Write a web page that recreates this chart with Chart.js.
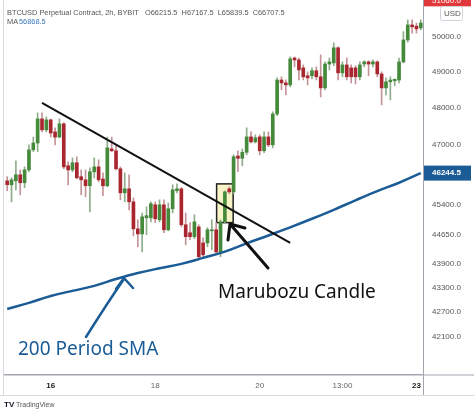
<!DOCTYPE html>
<html>
<head>
<meta charset="utf-8">
<script src="https://cdn.jsdelivr.net/npm/chart.js@4"></script>
<style>
    html, body { margin: 0; padding: 0; background: #fff; }
    #wrap { width: 474px; height: 414px; }
</style>
</head>
<body>
<div id="wrap"><canvas id="btcChart" width="474" height="414"></canvas></div>
<script>
// --- BTCUSD 2h candles ---
const opens  = [46040, 45935, 46040, 46200, 45990, 46330, 46866, 47050, 47705, 47406,
                47678, 47350, 47210, 47570, 46440, 46330, 46520, 46150, 46067, 45910,
                46280, 46410, 46090, 45910, 46890, 46840, 46360, 45725, 45830, 45490,
                44790, 44660, 45075, 45075, 45412, 45024, 45412, 44766, 45310, 45780,
                45830, 44895, 44690, 44590, 44840, 44430, 44430, 44740, 44766, 44200,
                44970, 45830, 45750, 46700, 46640, 46800, 47215, 47080, 47215, 46840,
                47215, 47000, 47840, 48780, 48700, 48644, 49400, 49345, 49120, 48900,
                48900, 49040, 48870, 48560, 49230, 49260, 49690, 48980, 49204, 49120,
                49120, 48870, 49230, 49290, 49230, 49290, 48950, 48560, 48730, 48760,
                48780, 49290, 49914, 50345, 50310, 50260];
const highs  = [46150, 46120, 46570, 46330, 46410, 47000, 47210, 47870, 47870, 47760,
                47700, 47460, 47705, 47600, 46545, 46650, 46680, 46330, 46330, 46385,
                46650, 46598, 46250, 47210, 47210, 47000, 46410, 46250, 46200, 45590,
                45024, 45200, 45360, 45490, 45490, 45542, 45542, 45460, 45935, 45960,
                45860, 45200, 44950, 45153, 44895, 44560, 44820, 45024, 44950, 45024,
                45780, 45880, 46732, 46840, 46890, 47460, 47350, 47270, 47270, 47350,
                47350, 47900, 48840, 48870, 48783, 49430, 49430, 49400, 49204, 49010,
                49120, 49150, 49487, 49290, 49400, 49830, 49714, 49290, 49400, 49204,
                49180, 49290, 49320, 49320, 49345, 49320, 49010, 48840, 48870, 48810,
                49400, 50150, 50490, 50490, 50400, 50490];
const lows   = [45780, 45490, 45800, 45670, 45860, 46280, 46820, 46820, 47350, 47350,
                47210, 47000, 47190, 46360, 45935, 46280, 46090, 45673, 45620, 45230,
                46120, 46015, 45650, 45880, 46820, 46330, 45542, 45490, 45280, 44610,
                44330, 44200, 44640, 44970, 44950, 44970, 44690, 44740, 45200, 45725,
                44840, 44383, 44510, 44540, 44050, 44050, 44330, 44256, 44130, 44080,
                44950, 45700, 45700, 46280, 46440, 46732, 47050, 47050, 46732, 46790,
                46950, 46920, 47790, 48504, 48366, 48590, 49150, 48783, 48783, 48644,
                48810, 48783, 48310, 48504, 49063, 49180, 48783, 48870, 48783, 48700,
                48670, 48783, 49150, 48900, 49150, 48870, 48090, 48366, 48227, 48620,
                48700, 49260, 49850, 50110, 50110, 50200];
const closes = [45940, 46067, 46200, 45990, 46330, 46866, 47050, 47705, 47406, 47678,
                47320, 47210, 47570, 46410, 46330, 46520, 46120, 46067, 45910, 46280,
                46410, 46067, 45910, 46920, 46840, 46360, 45725, 45830, 45490, 44790,
                44660, 45100, 45130, 45440, 45050, 45412, 44766, 45310, 45804, 45830,
                44895, 44590, 44590, 44970, 44080, 44130, 44766, 44766, 44200, 44970,
                45750, 45750, 46680, 46640, 46800, 47215, 47080, 47190, 46840, 47215,
                47000, 47840, 48780, 48700, 48644, 49375, 49345, 49063, 48870, 48840,
                49040, 48870, 48560, 49230, 49290, 49690, 48980, 49204, 48870, 48870,
                48870, 49204, 49290, 49230, 49290, 48950, 48560, 48730, 48780, 48800,
                49290, 49914, 50345, 50290, 50230, 50400];

// 200 period SMA, read every 5th candle
const smaIdx  = [0, 5, 10, 15, 20, 25, 30, 35, 40, 45, 50, 55, 60, 65, 70, 75, 80, 85, 90, 95];
const smaVals = [42780, 42930, 43100, 43225, 43350, 43520, 43670, 43790, 43900, 44050,
                 44210, 44420, 44620, 44830, 45050, 45282, 45530, 45770, 45990, 46244.5];

// hand-drawn trend line (candle index, price)
const trendIdx  = [8, 65];
const trendVals = [48143, 44430];

// marubozu highlight box
const boxIdx   = [48.1, 51.9];
const boxPrice = [45960, 44950];

const lastPrice = 51060.0;

// axis ticks
const tickIdx  = [10, 34, 58, 77, 94];
const tickText = ['16', '18', '20', '13:00', '23'];
const yTicks   = [50000, 49000, 48000, 47000, 45400, 44650, 43900, 43300, 42700, 42100];

const GREEN = '#45893b', RED = '#a9262f';
const GREEN_WICK = '#8fac8b', RED_WICK = '#c49397';
const BLUE = '#1b5c96';

const labels = opens.map((_, i) => {
    const k = tickIdx.indexOf(i);
    return k >= 0 ? tickText[k] : '';
});
const bodies = opens.map((o, i) => [o, closes[i]]);
const wicks = lows.map((l, i) => [l, highs[i]]);
const bodyColors = opens.map((o, i) => closes[i] >= o ? GREEN : RED);
const wickColors = opens.map((o, i) => closes[i] >= o ? GREEN_WICK : RED_WICK);

const smaData = opens.map(() => null);
smaIdx.forEach((ix, k) => { smaData[ix] = smaVals[k]; });
const trendData = opens.map(() => null);
trendIdx.forEach((ix, k) => { trendData[ix] = trendVals[k]; });

// annotations, header, price labels
const extras = {
    id: 'extras',
    beforeDatasetsDraw(chart) {
        const { ctx, scales: { x, y } } = chart;
        const l = x.getPixelForValue(boxIdx[0]), r = x.getPixelForValue(boxIdx[1]);
        const t = y.getPixelForValue(boxPrice[0]), b = y.getPixelForValue(boxPrice[1]);
        ctx.save();
        ctx.fillStyle = '#f8f4c6';
        ctx.fillRect(l, t, r - l, b - t);
        ctx.strokeStyle = '#222';
        ctx.lineWidth = 1.5;
        ctx.strokeRect(l, t, r - l, b - t);
        ctx.restore();
    },
    afterDatasetsDraw(chart) {
        const ctx = chart.ctx;
        ctx.save();
        ctx.lineCap = 'round';
        ctx.lineJoin = 'round';

        // black arrow to the marubozu
        ctx.strokeStyle = '#111';
        ctx.lineWidth = 3;
        ctx.beginPath();
        ctx.moveTo(268, 268);
        ctx.lineTo(230, 224);
        ctx.moveTo(228, 240);
        ctx.lineTo(230, 224);
        ctx.lineTo(245, 228);
        ctx.stroke();

        // blue curved arrow to the SMA
        ctx.strokeStyle = BLUE;
        ctx.lineWidth = 2.5;
        ctx.beginPath();
        ctx.moveTo(86, 337);
        ctx.quadraticCurveTo(108, 302, 124, 279);
        ctx.moveTo(116, 289);
        ctx.lineTo(124, 278);
        ctx.lineTo(133, 288);
        ctx.stroke();

        ctx.textBaseline = 'middle';
        ctx.font = '19px "Noto Sans"';
        ctx.fillStyle = '#111';
        ctx.fillText('Marubozu Candle', 218, 293);
        ctx.fillStyle = BLUE;
        ctx.fillText('200 Period SMA', 18, 350);
        ctx.restore();
    },
    afterDraw(chart) {
        const { ctx, scales: { y }, chartArea } = chart;
        ctx.save();

        // header legend
        ctx.textBaseline = 'middle';
        ctx.font = '7.4px "Liberation Sans"';
        ctx.fillStyle = '#555';
        ctx.fillText('BTCUSD Perpetual Contract, 2h, BYBIT   O66215.5  H67167.5  L65839.5  C66707.5', 7, 13);
        ctx.fillText('MA', 7, 22);
        ctx.fillStyle = '#3b78b8';
        ctx.fillText('56868.5', 19, 22);

        // frame lines
        ctx.strokeStyle = '#d9dbe0';
        ctx.lineWidth = 1;
        ctx.beginPath();
        ctx.moveTo(0, 395.5);
        ctx.lineTo(474, 395.5);
        ctx.moveTo(3.5, 0);
        ctx.lineTo(3.5, 395);
        ctx.stroke();
        ctx.strokeStyle = '#a3a6af';
        ctx.beginPath();
        ctx.moveTo(chartArea.right + 0.5, chartArea.bottom);
        ctx.lineTo(chartArea.right + 0.5, 395);
        ctx.moveTo(chartArea.right, chartArea.bottom);
        ctx.lineTo(474, chartArea.bottom);
        ctx.stroke();

        // last price label (cut off at the top)
        const lp = y.getPixelForValue(lastPrice);
        ctx.fillStyle = '#e0383b';
        ctx.fillRect(chartArea.right + 1, lp - 7, 47, 13);
        ctx.fillStyle = '#fff';
        ctx.font = '8px "Liberation Sans"';
        ctx.fillText(lastPrice.toFixed(1), chartArea.right + 9, lp);

        // USD badge
        ctx.fillStyle = '#fff';
        ctx.strokeStyle = '#d1d4dc';
        ctx.beginPath();
        ctx.roundRect(440.5, 6.5, 22, 14, 2);
        ctx.fill();
        ctx.stroke();
        ctx.fillStyle = '#555';
        ctx.fillText('USD', 444, 14);

        // SMA value label
        const sp = y.getPixelForValue(smaVals[smaVals.length - 1]);
        ctx.fillStyle = BLUE;
        ctx.fillRect(chartArea.right + 1, sp - 7.5, 47, 15);
        ctx.fillStyle = '#fff';
        ctx.font = 'bold 8px "Liberation Sans"';
        ctx.fillText(smaVals[smaVals.length - 1].toFixed(1), chartArea.right + 9, sp);

        // TradingView mark
        ctx.fillStyle = '#131722';
        ctx.font = 'bold 8px "Liberation Sans"';
        ctx.fillText('TV', 4, 405);
        ctx.fillStyle = '#555';
        ctx.font = '7px "Liberation Sans"';
        ctx.fillText('TradingView', 16, 405);
        ctx.restore();
    }
};

const ctx = document.getElementById('btcChart').getContext('2d');
new Chart(ctx, {
    type: 'bar',
    data: {
        labels: labels,
        datasets: [
            {
                type: 'line', label: 'Trend', data: trendData,
                borderColor: '#111', borderWidth: 2, pointRadius: 0,
                spanGaps: true, order: 0
            },
            {
                type: 'line', label: 'MA 200', data: smaData,
                borderColor: BLUE, borderWidth: 2.5, pointRadius: 0,
                spanGaps: true, tension: 0.4, order: 1
            },
            {
                label: 'Body', data: bodies, backgroundColor: bodyColors,
                barThickness: 3, minBarLength: 1, grouped: false, order: 2
            },
            {
                label: 'Wick', data: wicks, backgroundColor: wickColors,
                barThickness: 1, grouped: false, order: 3
            }
        ]
    },
    options: {
        responsive: false,
        animation: false,
        devicePixelRatio: 1,
        layout: { padding: { left: 5, right: 0, top: 0, bottom: 0 } },
        plugins: {
            legend: { display: false },
            tooltip: { enabled: false }
        },
        scales: {
            x: {
                offset: true,
                grid: { display: false, drawTicks: false },
                border: { color: '#a3a6af', width: 1.5 },
                ticks: {
                    autoSkip: false,
                    maxRotation: 0,
                    padding: 6,
                    color: (c) => (labels[c.index] === '16' || labels[c.index] === '23') ? '#222' : '#666',
                    font: (c) => ({
                        family: 'Liberation Sans', size: 8,
                        weight: (labels[c.index] === '16' || labels[c.index] === '23') ? 'bold' : 'normal'
                    })
                },
                afterFit: (s) => { s.height = 39; s.paddingLeft = 0; s.paddingRight = 0; }
            },
            y: {
                type: 'logarithmic',
                position: 'right',
                min: 41190,
                max: 51070,
                grid: { display: false, drawTicks: false },
                border: { color: '#a3a6af' },
                ticks: {
                    padding: 9,
                    crossAlign: 'near',
                    color: '#555',
                    font: { family: 'Liberation Sans', size: 8 },
                    callback: (v) => Number(v).toFixed(1)
                },
                afterBuildTicks: (s) => { s.ticks = yTicks.map(v => ({ value: v })); },
                afterFit: (s) => { s.width = 51; s.paddingTop = 0; s.paddingBottom = 0; }
            }
        }
    },
    plugins: [extras]
});
</script>
</body>
</html>
